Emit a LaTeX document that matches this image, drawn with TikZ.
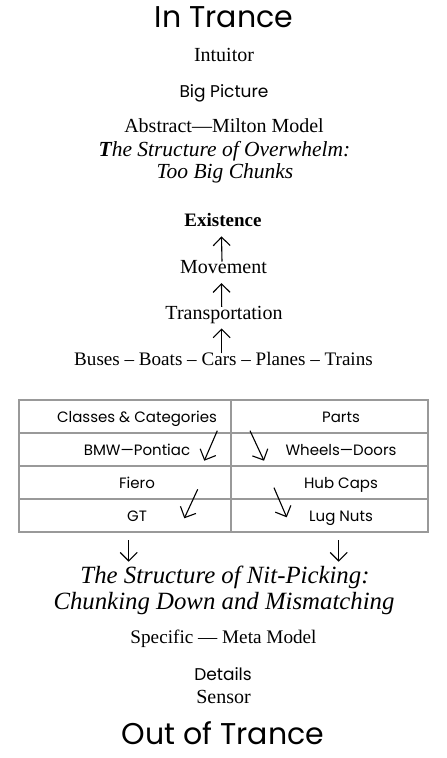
\documentclass[tikz,border=0pt]{standalone}
\usepackage{fontspec}
\setmainfont{Liberation Serif}
\newfontfamily\gsans{Poppins}
\usetikzlibrary{arrows.meta}
\begin{document}
\begin{tikzpicture}[x=1pt,y=-1pt,
  txt/.style={inner sep=0pt, anchor=base},
  ser/.style={txt, font=\fontsize{20}{24}\selectfont},
  serb/.style={txt, font=\fontsize{19}{24}\selectfont\bfseries},
  ita/.style={txt, font=\fontsize{21.5}{25}\selectfont\itshape},
  itb/.style={txt, font=\fontsize{24.8}{29}\selectfont\itshape},
  gs/.style={txt, font=\gsans\fontsize{17}{20}\selectfont},
  big/.style={txt, font=\gsans\fontsize{30}{36}\selectfont},
  celltxt/.style={txt, font=\gsans\fontsize{15}{18}\selectfont},
  arr/.style={line width=1.1pt, -{Straight Barb[length=8.5pt,width=17pt,line width=1.1pt]}},
  gridline/.style={draw=black!40, line width=2.5pt}]
\useasboundingbox (0,0) rectangle (447,758);

% top part
\node[big] (intr) at (224,27.3) {In Trance};
\node[ser] (intu) at (224,61) {Intuitor};
\node[gs]  (bigp) at (224,97.7) {Big Picture};
\node[ser] (abst) at (224,132.7) {Abstract—Milton Model};
\node[ita] (ov1)  at (224.5,156) {{\bfseries T}he Structure of Overwhelm:};
\node[ita] (ov2)  at (225,178.3) {Too Big Chunks};

% hierarchy
\node[serb] (ex)  at (223,226.7) {Existence};
\node[ser]  (mov) at (223.5,273.3) {Movement};
\node[ser]  (tra) at (224,319) {Transportation};
\node[txt, font=\fontsize{19.1}{24}\selectfont]  (bus) at (223.5,365) {Buses – Boats – Cars – Planes – Trains};

\draw[arr] ([xshift=-1.5pt,yshift=-1.5pt]mov.north) -- ([xshift=-1.5pt,yshift=-9.3pt]ex.south);
\draw[arr] ([xshift=-2.3pt,yshift=-1.2pt]tra.north) -- ([xshift=-2pt,yshift=-9.4pt]mov.south);
\draw[arr] ([xshift=-1.8pt,yshift=-1.7pt]bus.north) -- ([xshift=-2.3pt,yshift=-5pt]tra.south);

% table grid
\draw[gridline] (19,400) rectangle (428,532);
\draw[gridline] (19,433) -- (428,433);
\draw[gridline] (19,466) -- (428,466);
\draw[gridline] (19,499) -- (428,499);
\draw[gridline] (231,400) -- (231,532);

% table texts
\node[celltxt] (c11) at (137,422.3) {Classes \& Categories};
\node[celltxt] (c12) at (341,422.3) {Parts};
\node[celltxt] (c21) at (137,455) {BMW—Pontiac};
\node[celltxt] (c22) at (341,455) {Wheels—Doors};
\node[celltxt] (c31) at (137,488.3) {Fiero};
\node[celltxt] (c32) at (341,488.3) {Hub Caps};
\node[celltxt] (c41) at (137,521.3) {GT};
\node[celltxt] (c42) at (341,521.3) {Lug Nuts};

% table arrows
\coordinate (a1s) at (217.3,430.7); \coordinate (a1e) at (204.3,460.7);
\coordinate (a2s) at (250,430.7);   \coordinate (a2e) at (264,460.7);
\coordinate (a3s) at (197.7,489.3); \coordinate (a3e) at (184.3,518.3);
\coordinate (a4s) at (274,487.7);   \coordinate (a4e) at (286.7,517.3);
\coordinate (b1s) at (128.7,540);   \coordinate (b1e) at (128.7,561.7);
\coordinate (b2s) at (338.7,540);   \coordinate (b2e) at (338.7,561.7);
\draw[arr] (a1s) -- (a1e);
\draw[arr] (a2s) -- (a2e);
\draw[arr] (a3s) -- (a3e);
\draw[arr] (a4s) -- (a4e);
\draw[arr] (b1s) -- (b1e);
\draw[arr] (b2s) -- (b2e);

% bottom part
\node[itb] (np1)  at (225,583.3) {The Structure of Nit-Picking:};
\node[itb] (np2)  at (224,609.3) {Chunking Down and Mismatching};
\node[txt, font=\fontsize{19.2}{24}\selectfont] (spec) at (223.5,643.3) {Specific — Meta Model};
\node[gs]  (det)  at (223,680.7) {Details};
\node[ser] (sens) at (223.5,703.3) {Sensor};
\node[big] (out)  at (223,744.3) {Out of Trance};
\end{tikzpicture}
\end{document}
